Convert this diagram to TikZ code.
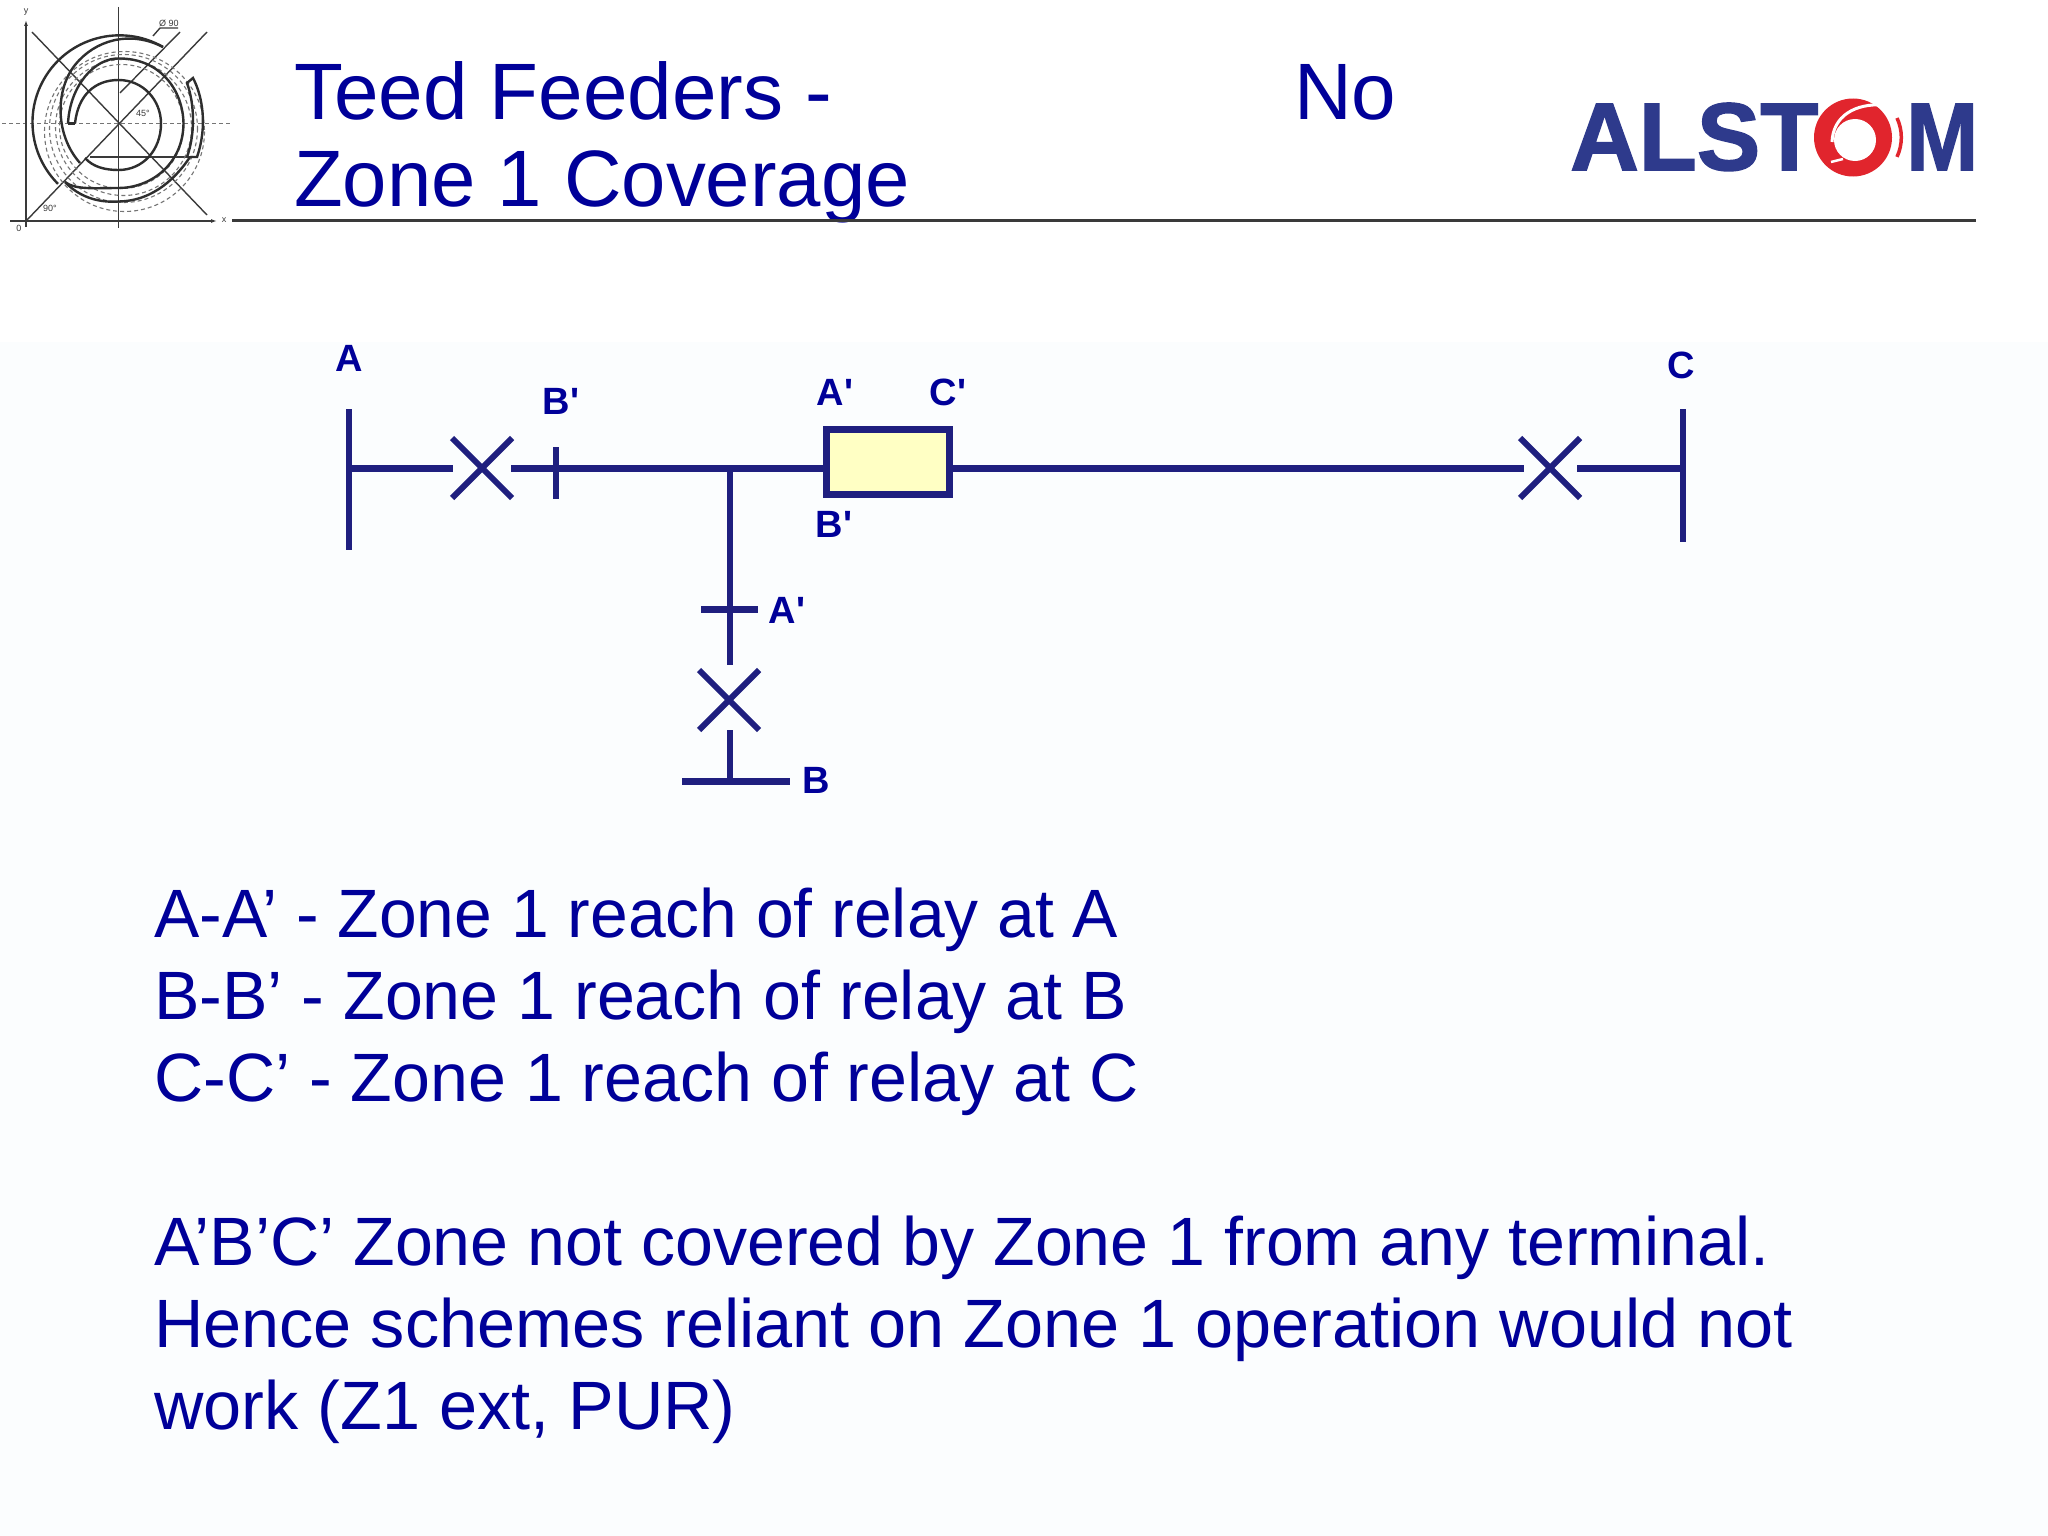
\documentclass[tikz,border=0pt]{standalone}
\usepackage{fontspec}
\setmainfont{Liberation Sans}
\newfontfamily\logofont[UprightFont={* Bold},UprightFeatures={FakeBold=1.6}]{Liberation Sans}
\definecolor{txt}{HTML}{000099}
\definecolor{ln}{HTML}{1F1F7F}
\definecolor{bg}{HTML}{FBFDFE}
\definecolor{boxf}{HTML}{FFFFC4}
\definecolor{logoB}{HTML}{2E3A8C}
\definecolor{logoR}{HTML}{E1252D}
\definecolor{ico}{HTML}{3A3A3A}
\usetikzlibrary{arrows.meta}
\tikzset{
  wire/.style={draw=ln,line width=7pt},
  vwire/.style={draw=ln,line width=6pt},
  lab/.style={font=\fontsize{38}{38}\selectfont\bfseries,text=txt,inner sep=0pt},
  ttl/.style={font=\fontsize{80}{80}\selectfont,text=txt,inner sep=0pt,anchor=base west},
  body/.style={font=\fontsize{68.4}{68.4}\selectfont,text=txt,inner sep=0pt,anchor=base west},
  icoline/.style={draw=ico,line width=1.4pt},
  icothick/.style={draw=ico!80!black,line width=2.4pt},
  icodash/.style={draw=ico!70,line width=1.1pt,dash pattern=on 4pt off 3pt},
  icotext/.style={font=\fontsize{9}{9}\selectfont,text=ico,inner sep=0pt},
  logotxt/.style={font=\fontsize{96}{96}\logofont,text=logoB,inner sep=0pt,anchor=base west},
}
\newcommand{\sq}{\textquotesingle}
\newcommand{\sx}[2]{\scalebox{#1}[1]{#2}}
\begin{document}
\begin{tikzpicture}[x=1pt,y=-1pt]
\useasboundingbox (0,0) rectangle (2048,1536);
\fill[white] (0,0) rectangle (2048,1536);
\fill[bg] (0,342) rectangle (2048,1536);
% ---- corner drawing
\begin{scope}
\coordinate (c) at (118.5,123.5);
\draw[icodash] (2,123.5) -- (232,123.5);
\draw[icoline,-{Latex[length=6pt,width=4pt]}] (26,227) -- (26,20);
\draw[icoline,-{Latex[length=6pt,width=4pt]}] (10,221) -- (217,221);
\draw[icoline] (118.5,7) -- (118.5,228);
\draw[icoline] (32,32) -- (207,215);
\draw[icoline] (27,220) -- (207,32);
\draw[icoline] (120,93) -- (180,32);
\draw[icoline] (153,36) -- (160,28) -- (178,28);
\draw[icoline] (90,157) -- (190,157);
\foreach \r/\dx/\dy in {62/3/3,68/5/4,74/5/5,80/6/8}{
  \draw[icodash] (118.5+\dx,123.5+\dy) circle[radius=\r];
}
\draw[icothick] (163,47) arc[start angle=-60,end angle=-225,radius=87];
\draw[icothick] (65,182) .. controls (85,203) and (110,202) .. (118.5,201.5) .. controls (155,201) and (178,175) .. (190,157);
\draw[icothick] (190,157) -- (197,157) .. controls (208,125) and (202,95) .. (193,78) -- (187,83) .. controls (195,105) and (195,135) .. (187,157);
\draw[icothick] (163,47) .. controls (130,30) and (95,40) .. (75,65) .. controls (55,90) and (55,135) .. (80,163);
\draw[icothick] (68,123.5) .. controls (70,85) and (95,58) .. (118.5,58.5) .. controls (160,58) and (183,90) .. (183.5,123.5) .. controls (183,165) and (150,188) .. (118.5,188) .. controls (95,188) and (75,190) .. (65,182);
\draw[icothick] (68,123.5) -- (75,123.5);
\draw[icothick] (75,123.5) .. controls (78,95) and (95,80) .. (118.5,80) .. controls (143,80) and (161,100) .. (161,123.5) .. controls (161,150) and (143,170) .. (118.5,170) .. controls (105,170) and (93,167) .. (85,158);
\node[icotext] (ly) at (26,12) {y};
\node[icotext] (lx) at (224,220) {x};
\node[icotext] (l0) at (19,228) {0};
\node[icotext] (l45) at (143,113) {45°};
\node[icotext] (l90) at (50,208) {90°};
\node[icotext] (ld) at (169,23) {Ø 90};
\end{scope}
% ---- title
\node[ttl] (t1) at (294,120) {Teed Feeders -};
\node[ttl] (t2) at (294,206) {\sx{.996}{Zone 1 Coverage}};
\node[ttl] (t3) at (1294,120) {No};
% ---- logo
\node[logotxt] (la) at (1570,170) {\sx{.99}{ALST}};
\node[logotxt] (lm) at (1906,170) {\sx{.9}{M}};
\fill[logoR] (1853,137.5) circle[radius=39];
\fill[white] (1855,140) circle[radius=21];
\draw[white,line width=3pt] (1832,142) .. controls (1833,116) and (1855,103) .. (1884,105);
\draw[white,line width=2.5pt] (1831,162) -- (1843,159);
\draw[logoR,line width=3.5pt] (1897,118) arc[start angle=-25,end angle=25,radius=46];
\coordinate (r1) at (232,220);
\coordinate (r2) at (1976,220);
\draw[ico,line width=3pt] (r1) -- (r2);
% ---- network
\coordinate (Atop) at (349,409); \coordinate (Abot) at (349,550); \coordinate (Aj) at (349,468);
\coordinate (x1l) at (453,468); \coordinate (x1r) at (511,468);
\coordinate (x1) at (482,468);
\coordinate (tj) at (730,468);
\coordinate (bt) at (556,447); \coordinate (bb) at (556,499);
\node[draw=ln,line width=7pt,fill=boxf,minimum width=123pt,minimum height=65pt,inner sep=0pt] (box) at (887.5,462) {};
\coordinate (x3l) at (1524,468); \coordinate (x3r) at (1577,468);
\coordinate (x3) at (1550,468);
\coordinate (Ctop) at (1683,409); \coordinate (Cbot) at (1683,542); \coordinate (Cj) at (1683,468);
\coordinate (v1) at (730,665); \coordinate (v2) at (730,730); \coordinate (Bj) at (730,781);
\coordinate (x2) at (729,700);
\coordinate (Bl) at (682,781); \coordinate (Br) at (790,781);
\coordinate (at1) at (701,609); \coordinate (at2) at (758,609);
\draw[vwire] (Atop) -- (Abot);
\draw[wire] (Aj) -- (x1l);
\draw[wire] (x1r) -- (box.west |- x1r);
\draw[vwire] (bt) -- (bb);
\draw[wire] (box.east |- x3l) -- (x3l);
\draw[wire] (x3r) -- (Cj);
\draw[vwire] (Ctop) -- (Cbot);
\draw[vwire] (tj) -- (v1);
\draw[vwire] (v2) -- (Bj);
\draw[wire] (Bl) -- (Br);
\draw[wire] (at1) -- (at2);
\foreach \c in {x1,x2,x3}{
  \draw[vwire] ([shift={(-30,-30)}]\c) -- ([shift={(30,30)}]\c);
  \draw[vwire] ([shift={(30,-30)}]\c) -- ([shift={(-30,30)}]\c);
}
\node[lab] (nA) at (349,358) {A};
\node[lab] (nB1) at (561,401) {B\sq};
\node[lab] (nA1) at (835,392) {A\sq};
\node[lab] (nC1) at (948,392) {C\sq};
\node[lab] (nB2) at (834,524) {B\sq};
\node[lab] (nA2) at (787,610) {A\sq};
\node[lab] (nB) at (816,780) {B};
\node[lab] (nC) at (1681,365) {C};
% ---- body
\node[body] (b1) at (154,937) {\sx{.992}{A-A’ - Zone 1 reach of relay at A}};
\node[body] (b2) at (154,1019) {\sx{.996}{B-B’ - Zone 1 reach of relay at B}};
\node[body] (b3) at (154,1101) {\sx{.996}{C-C’ - Zone 1 reach of relay at C}};
\node[body] (b4) at (154,1265) {\sx{.996}{A’B’C’ Zone not covered by Zone 1 from any terminal.}};
\node[body] (b5) at (154,1347) {Hence schemes reliant on Zone 1 operation would not};
\node[body] (b6) at (154,1429) {work (Z1 ext, PUR)};
\end{tikzpicture}
\end{document}
